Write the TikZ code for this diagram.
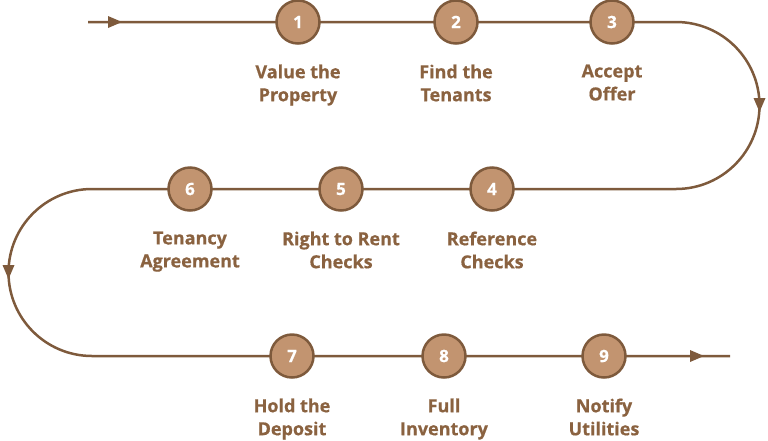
\documentclass[tikz,border=0pt]{standalone}
\usepackage{fontspec}
\setmainfont{Open Sans}[FakeBold=0.6]
\usetikzlibrary{arrows.meta,decorations.markings}
\definecolor{ln}{HTML}{7E5A3C}
\definecolor{fl}{HTML}{C29470}
\definecolor{tx}{HTML}{8A6240}
\tikzset{
 stepc/.style={circle,draw=ln,line width=2.5pt,fill=fl,minimum size=43pt,inner sep=0pt,text=white,font=\fontsize{17}{17}\selectfont\bfseries},
 lab/.style={text=tx,align=center,font=\fontsize{18}{23}\selectfont\bfseries},
 tri/.style={fill=ln,draw=none},
}
\begin{document}
\begin{tikzpicture}[x=1pt,y=-1pt]
\useasboundingbox (0,0) rectangle (768,440);
\coordinate (s) at (88,22);
\coordinate (e) at (730,356);
\draw[ln,line width=2.5pt] (s) -- (676,22) arc[start angle=-90,end angle=90,radius=83.5] -- (92,189) arc[start angle=-90,end angle=-270,radius=83.5] -- (e);
\fill[ln] (122,22) -- ++(-14,-6) -- ++(0,12) -- cycle;
\fill[ln] (704,356) -- ++(-14,-6) -- ++(0,12) -- cycle;
\fill[ln] (759.5,112) -- ++(-6,-14) -- ++(12,0) -- cycle;
\fill[ln] (8.5,279) -- ++(-6,-14) -- ++(12,0) -- cycle;
\foreach \n/\x/\y/\t in {1/298/22/{Value the\\Property},2/456/22/{Find the\\Tenants},3/612/22/{Accept\\Offer},
 6/190/189/{Tenancy\\Agreement},5/341/189/{Right to Rent\\Checks},4/492/189/{Reference\\Checks},
 7/292/356/{Hold the\\Deposit},8/444/356/{Full\\Inventory},9/604/356/{Notify\\Utilities}}{
 \node[stepc] (c\n) at (\x,\y) {\n};
 \node[lab,anchor=north] (l\n) at (\x,\y+39) {\t};
}
\end{tikzpicture}
\end{document}
